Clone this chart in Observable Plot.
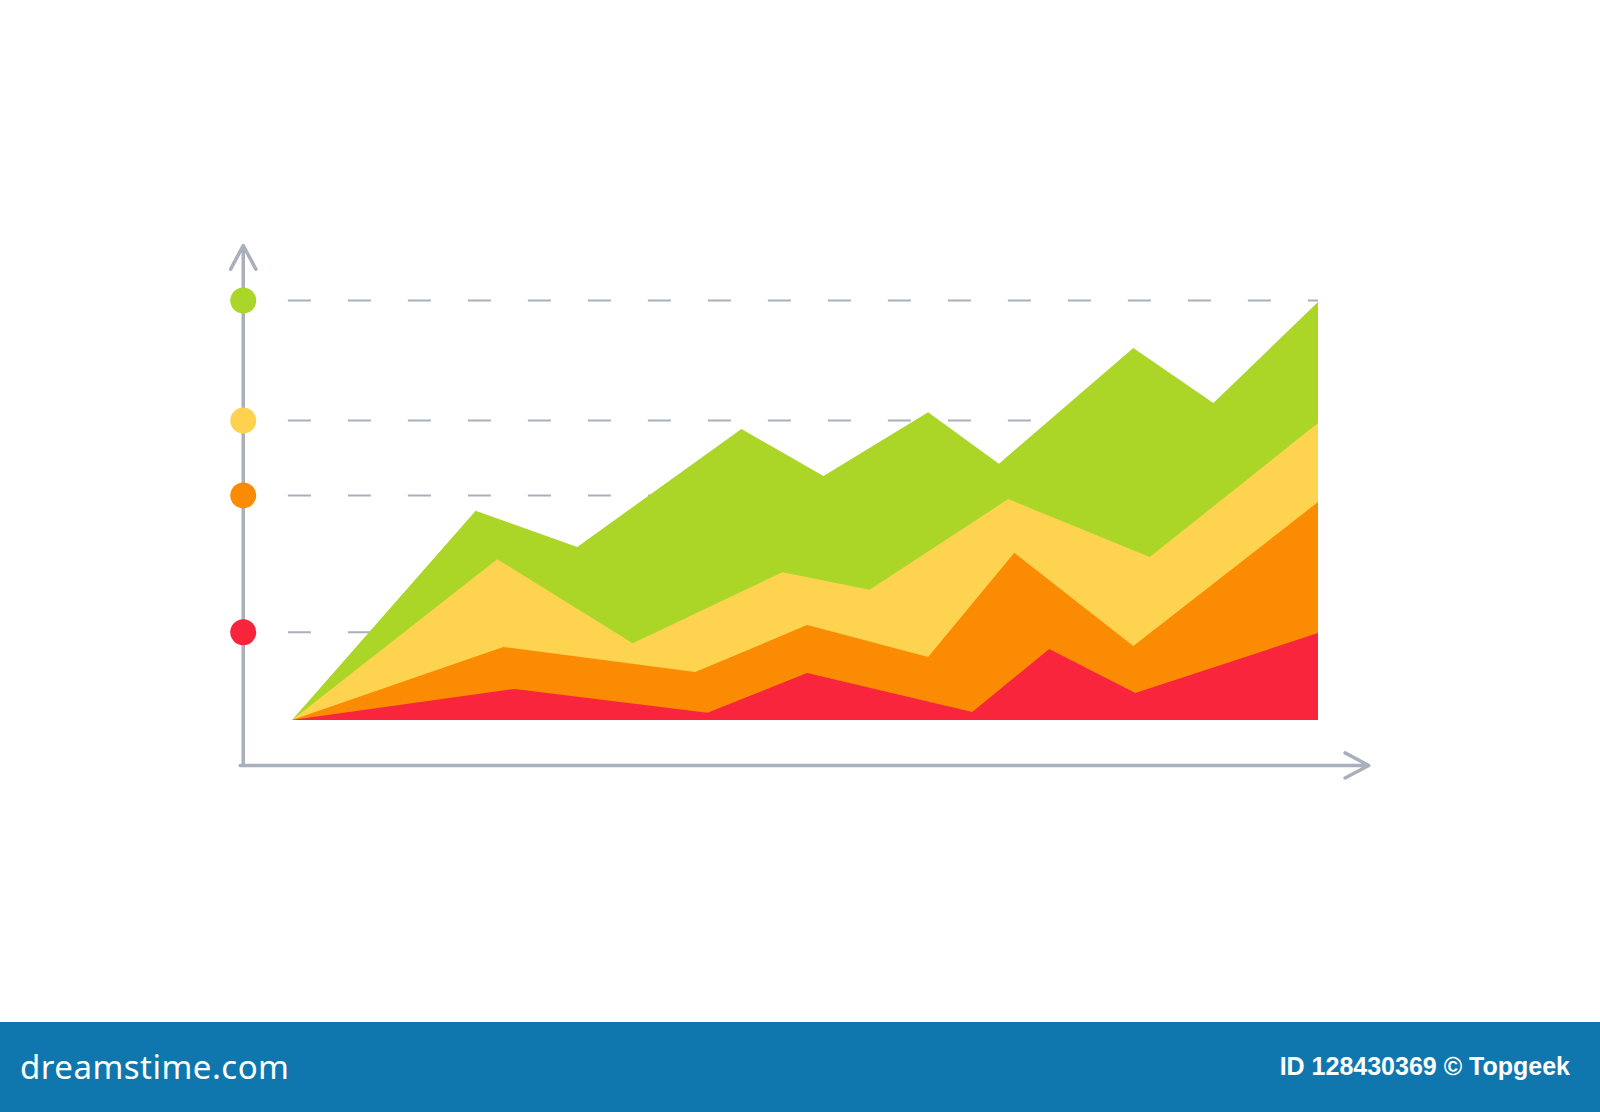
<!DOCTYPE html>
<html>
<head>
<meta charset="utf-8">
<script src="https://cdn.jsdelivr.net/npm/d3@7"></script>
<script src="https://cdn.jsdelivr.net/npm/@observablehq/plot@0.6"></script>
<style>
  html, body { margin: 0; padding: 0; background: #ffffff; }
  #wrap { width: 1600px; }
  #footer {
    width: 1600px; height: 90px; background: #1077ae; position: relative;
    color: #ffffff;
  }
  #brand { position: absolute; left: 20px; top: 22px; font-family: "Noto Sans", sans-serif; font-size: 33px; letter-spacing: 0.5px; }
  #credit { position: absolute; right: 30px; top: 30px; font-family: "Liberation Sans", sans-serif; font-weight: bold; font-size: 25px; }
</style>
</head>
<body>
<div id="wrap"></div>
<div id="footer"><span id="brand">dreamstime.com</span><span id="credit">ID 128430369 © Topgeek</span></div>
<script>
// ---- data (x: 0..100 along the horizontal axis, y: 0..100 along the vertical) ----
const greenX  = [0, 17.9, 27.8, 43.8, 51.8, 62.0, 68.9, 82.0, 89.8, 100];
const greenY  = [0, 49.8, 41.2, 69.3, 58.1, 73.3, 61.0, 88.6, 75.5, 99.5];
const yellowX = [0, 20.0, 33.2, 47.8, 56.3, 69.8, 83.6, 100];
const yellowY = [0, 38.3, 18.3, 35.2, 31.0, 52.6, 38.8, 70.7];
const orangeX = [0, 20.6, 39.3, 50.2, 62.0, 70.4, 82.0, 100];
const orangeY = [0, 17.4, 11.4, 22.6, 15.0, 39.8, 17.6, 51.9];
const redX    = [0, 21.7, 40.5, 50.2, 66.3, 73.8, 82.2, 100];
const redY    = [0, 7.4, 1.7, 11.2, 1.9, 16.9, 6.4, 20.7];

const levels      = [100, 71.4, 53.6, 21.0];
const levelColors = ["#a9d628", "#fed24f", "#fb8b04", "#f8243b"];
const seriesColors = ["#abd627", "#fed34f", "#fb8b02", "#f9253c"];

// axis extents in data units
const axisLeftX = -4.8, axisStartX = -5.1, axisEndX = 104.9, axisBottomY = -10.7, axisTopY = 113.1;
const gridStartX = -0.4;

const rows = (xs, ys) => xs.map((x, i) => ({x, y: ys[i]}));
const green = rows(greenX, greenY), yellow = rows(yellowX, yellowY),
      orange = rows(orangeX, orangeY), red = rows(redX, redY);

const gray = "#a9b0bc";

const chart = Plot.plot({
  width: 1600,
  height: 1022,
  margin: 0,
  style: {background: "#ffffff"},
  x: {domain: [0, 100], range: [292, 1318], axis: null},
  y: {domain: [0, 100], range: [720, 300], axis: null},
  color: {type: "identity"},
  marks: [
    Plot.ruleY(levels, {y: d => d, x1: () => gridStartX, x2: () => 100, stroke: gray, strokeWidth: 2, strokeDasharray: "23,37"}),
    Plot.areaY(green,  {x: "x", y1: 0, y2: "y", fill: seriesColors[0], curve: "linear"}),
    Plot.areaY(yellow, {x: "x", y1: 0, y2: "y", fill: seriesColors[1], curve: "linear"}),
    Plot.areaY(orange, {x: "x", y1: 0, y2: "y", fill: seriesColors[2], curve: "linear"}),
    Plot.areaY(red,    {x: "x", y1: 0, y2: "y", fill: seriesColors[3], curve: "linear"}),
    Plot.arrow([0], {x1: () => axisLeftX, y1: () => axisBottomY, x2: () => axisLeftX, y2: () => axisTopY, stroke: gray, strokeWidth: 3.5, headLength: 11.5, headAngle: 56}),
    Plot.arrow([0], {x1: () => axisStartX, y1: () => axisBottomY, x2: () => axisEndX, y2: () => axisBottomY, stroke: gray, strokeWidth: 3.5, headLength: 11.5, headAngle: 56}),
    Plot.dot(levels, {x: () => axisLeftX, y: d => d, r: 13, fill: (d, i) => levelColors[i], stroke: null})
  ]
});
document.getElementById("wrap").appendChild(chart);
</script>
</body>
</html>
